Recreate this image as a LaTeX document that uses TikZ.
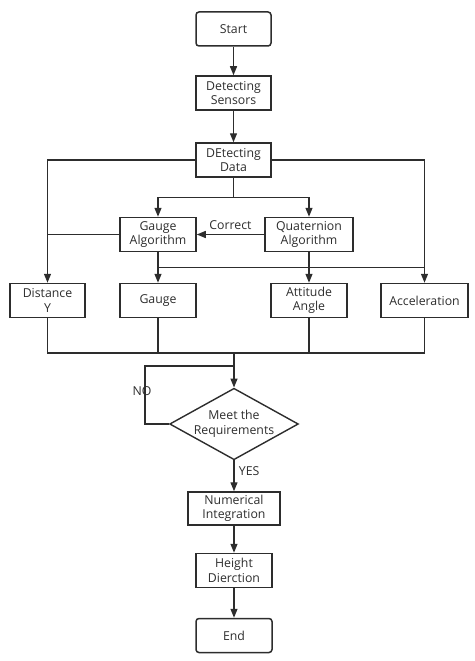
\documentclass[tikz,border=0pt]{standalone}
\usepackage{fontspec}
\setmainfont{Open Sans}
\usetikzlibrary{shapes.geometric, arrows.meta, positioning, calc}
\definecolor{linegray}{RGB}{45, 45, 45}
\begin{document}
\begin{tikzpicture}[x=1pt, y=-1pt,
  box/.style={draw=linegray, line width=1.5pt, minimum height=34pt, align=center, inner sep=2pt, font=\fontsize{12.3}{14.5}\selectfont, text=linegray},
  term/.style={box, rounded corners=3pt},
  choice/.style={diamond, draw=linegray, line width=1.4pt, aspect=1.8, minimum width=126pt, minimum height=70pt, inner sep=0pt, align=center, font=\fontsize{12.3}{14.5}\selectfont, text=linegray},
  arrow/.style={-{Triangle[length=9pt, width=7pt]}, line width=1.3pt, linegray},
  link/.style={line width=1.3pt, linegray},
  tag/.style={font=\fontsize{12.3}{14}\selectfont, text=linegray}
]
  \useasboundingbox (0,0) rectangle (474,661);
  % top column
  \node[term, minimum width=75pt] (start) at (233.5, 29) {Start};
  \node[box, minimum width=75pt] (sensors) at (233.5, 93) {Detecting\\Sensors};
  \node[box, minimum width=75pt] (data) at (233.5, 160) {DEtecting\\Data};
  % algorithms
  \node[box, minimum width=76pt] (galg) at (158, 234.5) {Gauge\\Algorithm};
  \node[box, minimum width=88pt] (quat) at (309, 234.5) {Quaternion\\Algorithm};
  % measured values
  \node[box, minimum width=75pt] (dist) at (47.5, 300.5) {Distance\\Y};
  \node[box, minimum width=76pt] (gauge) at (158, 300.5) {Gauge};
  \node[box, minimum width=76pt] (att) at (309, 300.5) {Attitude\\Angle};
  \node[box, minimum width=87pt] (acc) at (424.5, 300.5) {Acceleration};
  % check and output
  \node[choice] (meet) at (234, 424) {Meet the\\Requirements};
  \node[box, minimum width=92pt, minimum height=33pt] (numint) at (234, 508.5) {Numerical\\Integration};
  \node[box, minimum width=76pt] (height) at (234, 570.5) {Height\\Dierction};
  \node[term, minimum width=76pt] (end) at (234, 635.5) {End};

  \draw[arrow] (start) -- (sensors);
  \draw[arrow] (sensors) -- (data);
  \draw[arrow] (data.west) -| (dist.north);
  \draw[arrow] (data.east) -| (acc.north);
  \draw[link] (data.south) -- ++(0,20) coordinate (split);
  \draw[arrow] (split) -| (galg.north);
  \draw[arrow] (split) -| (quat.north);
  \draw[arrow] (quat.west) -- (galg.east) node[tag, midway, above=1pt] {Correct};
  \draw[link] (galg.west) -- (dist.north |- galg.west);
  \draw[arrow] (galg.south) -- (gauge.north);
  \coordinate (gjoin) at ($(galg.south)!0.5!(gauge.north)$);
  \draw[link] (gjoin) -- (acc.north |- gjoin);
  \draw[arrow] (quat.south) -- (att.north);
  % merge below the values
  \coordinate (merge) at (234, 353);
  \draw[link] (dist.south) |- (merge) -| (acc.south);
  \draw[link] (gauge.south) -- (gauge.south |- merge);
  \draw[link] (att.south) -- (att.south |- merge);
  \draw[arrow] (merge) -- (meet.north);
  \coordinate (loopin) at (234, 366);
  \draw[link] (meet.west) -- ++(-24,0) |- (loopin);
  \node[tag] (no) at (142, 391) {NO};
  \draw[arrow] (meet.south) -- (numint.north) node[tag, pos=0.35, right=1pt] {YES};
  \draw[arrow] (numint) -- (height);
  \draw[arrow] (height) -- (end);
\end{tikzpicture}
\end{document}
